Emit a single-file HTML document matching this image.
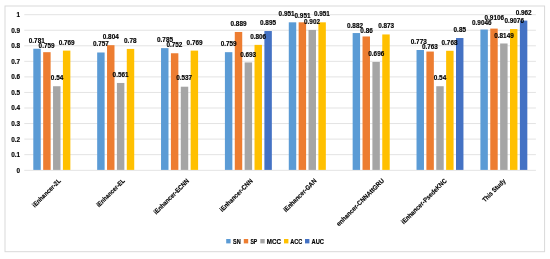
<!DOCTYPE html>
<html><head><meta charset="utf-8"><title>chart</title><style>html,body{margin:0;padding:0;background:#fff}body{width:550px;height:259px;overflow:hidden}</style></head><body>
<svg width="550" height="259" viewBox="0 0 550 259" style="display:block">
<rect x="0" y="0" width="550" height="259" fill="#fff"/>
<rect x="5" y="6" width="539.6" height="245.7" fill="#fff" stroke="#d9d9d9" stroke-width="1"/>
<line x1="24.3" x2="535.9" y1="170.35" y2="170.35" stroke="#d9d9d9" stroke-width="0.75"/>
<line x1="24.3" x2="535.9" y1="154.65" y2="154.65" stroke="#d9d9d9" stroke-width="0.75"/>
<line x1="24.3" x2="535.9" y1="139.10" y2="139.10" stroke="#d9d9d9" stroke-width="0.75"/>
<line x1="24.3" x2="535.9" y1="123.55" y2="123.55" stroke="#d9d9d9" stroke-width="0.75"/>
<line x1="24.3" x2="535.9" y1="108.00" y2="108.00" stroke="#d9d9d9" stroke-width="0.75"/>
<line x1="24.3" x2="535.9" y1="92.45" y2="92.45" stroke="#d9d9d9" stroke-width="0.75"/>
<line x1="24.3" x2="535.9" y1="76.90" y2="76.90" stroke="#d9d9d9" stroke-width="0.75"/>
<line x1="24.3" x2="535.9" y1="61.35" y2="61.35" stroke="#d9d9d9" stroke-width="0.75"/>
<line x1="24.3" x2="535.9" y1="45.80" y2="45.80" stroke="#d9d9d9" stroke-width="0.75"/>
<line x1="24.3" x2="535.9" y1="30.25" y2="30.25" stroke="#d9d9d9" stroke-width="0.75"/>
<line x1="24.3" x2="535.9" y1="14.70" y2="14.70" stroke="#d9d9d9" stroke-width="0.75"/>
<g font-family="'Liberation Sans', sans-serif" font-weight="bold" font-size="6.6" fill="#000" stroke="#000" stroke-width="0.15" stroke-linejoin="round">
<text x="20.1" y="172.65" text-anchor="end" textLength="3.53" lengthAdjust="spacingAndGlyphs">0</text>
<text x="20.1" y="157.10" text-anchor="end" textLength="8.93" lengthAdjust="spacingAndGlyphs">0.1</text>
<text x="20.1" y="141.55" text-anchor="end" textLength="8.93" lengthAdjust="spacingAndGlyphs">0.2</text>
<text x="20.1" y="126.00" text-anchor="end" textLength="8.93" lengthAdjust="spacingAndGlyphs">0.3</text>
<text x="20.1" y="110.45" text-anchor="end" textLength="8.93" lengthAdjust="spacingAndGlyphs">0.4</text>
<text x="20.1" y="94.90" text-anchor="end" textLength="8.93" lengthAdjust="spacingAndGlyphs">0.5</text>
<text x="20.1" y="79.35" text-anchor="end" textLength="8.93" lengthAdjust="spacingAndGlyphs">0.6</text>
<text x="20.1" y="63.80" text-anchor="end" textLength="8.93" lengthAdjust="spacingAndGlyphs">0.7</text>
<text x="20.1" y="48.25" text-anchor="end" textLength="8.93" lengthAdjust="spacingAndGlyphs">0.8</text>
<text x="20.1" y="32.70" text-anchor="end" textLength="8.93" lengthAdjust="spacingAndGlyphs">0.9</text>
<text x="20.1" y="17.15" text-anchor="end" textLength="3.53" lengthAdjust="spacingAndGlyphs">1</text>
<rect x="33.30" y="48.75" width="7.45" height="121.15" fill="#5B9BD5" stroke="none"/>
<rect x="43.17" y="52.18" width="7.45" height="117.72" fill="#ED7D31" stroke="none"/>
<rect x="53.04" y="86.23" width="7.45" height="83.67" fill="#A5A5A5" stroke="none"/>
<rect x="62.91" y="50.62" width="7.45" height="119.28" fill="#FFC000" stroke="none"/>
<rect x="97.17" y="52.49" width="7.45" height="117.41" fill="#5B9BD5" stroke="none"/>
<rect x="107.04" y="45.18" width="7.45" height="124.72" fill="#ED7D31" stroke="none"/>
<rect x="116.91" y="82.96" width="7.45" height="86.94" fill="#A5A5A5" stroke="none"/>
<rect x="126.78" y="48.91" width="7.45" height="120.99" fill="#FFC000" stroke="none"/>
<rect x="161.04" y="48.13" width="7.45" height="121.77" fill="#5B9BD5" stroke="none"/>
<rect x="170.91" y="53.26" width="7.45" height="116.64" fill="#ED7D31" stroke="none"/>
<rect x="180.78" y="86.70" width="7.45" height="83.20" fill="#A5A5A5" stroke="none"/>
<rect x="190.65" y="50.62" width="7.45" height="119.28" fill="#FFC000" stroke="none"/>
<rect x="224.91" y="52.18" width="7.45" height="117.72" fill="#5B9BD5" stroke="none"/>
<rect x="234.78" y="31.96" width="7.45" height="137.94" fill="#ED7D31" stroke="none"/>
<rect x="244.65" y="62.44" width="7.45" height="107.46" fill="#A5A5A5" stroke="none"/>
<rect x="254.52" y="44.87" width="7.45" height="125.03" fill="#FFC000" stroke="none"/>
<rect x="264.39" y="31.03" width="7.45" height="138.87" fill="#4472C4" stroke="none"/>
<rect x="288.78" y="22.32" width="7.45" height="147.58" fill="#5B9BD5" stroke="none"/>
<rect x="298.65" y="22.32" width="7.45" height="147.58" fill="#ED7D31" stroke="none"/>
<rect x="308.52" y="29.94" width="7.45" height="139.96" fill="#A5A5A5" stroke="none"/>
<rect x="318.39" y="22.32" width="7.45" height="147.58" fill="#FFC000" stroke="none"/>
<rect x="352.65" y="33.05" width="7.45" height="136.85" fill="#5B9BD5" stroke="none"/>
<rect x="362.52" y="36.47" width="7.45" height="133.43" fill="#ED7D31" stroke="none"/>
<rect x="372.39" y="61.97" width="7.45" height="107.93" fill="#A5A5A5" stroke="none"/>
<rect x="382.26" y="34.45" width="7.45" height="135.45" fill="#FFC000" stroke="none"/>
<rect x="416.52" y="50.00" width="7.45" height="119.90" fill="#5B9BD5" stroke="none"/>
<rect x="426.39" y="51.55" width="7.45" height="118.35" fill="#ED7D31" stroke="none"/>
<rect x="436.26" y="86.23" width="7.45" height="83.67" fill="#A5A5A5" stroke="none"/>
<rect x="446.13" y="50.78" width="7.45" height="119.12" fill="#FFC000" stroke="none"/>
<rect x="456.00" y="38.03" width="7.45" height="131.87" fill="#4472C4" stroke="none"/>
<rect x="480.39" y="29.53" width="7.45" height="140.37" fill="#5B9BD5" stroke="none"/>
<rect x="490.26" y="28.60" width="7.45" height="141.30" fill="#ED7D31" stroke="none"/>
<rect x="500.13" y="43.48" width="7.45" height="126.42" fill="#A5A5A5" stroke="none"/>
<rect x="510.00" y="29.07" width="7.45" height="140.83" fill="#FFC000" stroke="none"/>
<rect x="519.87" y="20.61" width="7.45" height="149.29" fill="#4472C4" stroke="none"/>
<text x="28.80" y="43.00" textLength="16.00" lengthAdjust="spacingAndGlyphs">0.781</text>
<text x="38.60" y="48.00" textLength="16.00" lengthAdjust="spacingAndGlyphs">0.759</text>
<text x="50.87" y="79.90" textLength="12.46" lengthAdjust="spacingAndGlyphs">0.54</text>
<text x="58.70" y="44.70" textLength="16.00" lengthAdjust="spacingAndGlyphs">0.769</text>
<text x="92.90" y="46.20" textLength="16.00" lengthAdjust="spacingAndGlyphs">0.757</text>
<text x="102.80" y="38.90" textLength="16.00" lengthAdjust="spacingAndGlyphs">0.804</text>
<text x="112.60" y="77.00" textLength="16.00" lengthAdjust="spacingAndGlyphs">0.561</text>
<text x="124.07" y="42.90" textLength="12.46" lengthAdjust="spacingAndGlyphs">0.78</text>
<text x="157.00" y="42.00" textLength="16.00" lengthAdjust="spacingAndGlyphs">0.785</text>
<text x="166.40" y="47.00" textLength="16.00" lengthAdjust="spacingAndGlyphs">0.752</text>
<text x="176.20" y="80.40" textLength="16.00" lengthAdjust="spacingAndGlyphs">0.537</text>
<text x="186.60" y="44.80" textLength="16.00" lengthAdjust="spacingAndGlyphs">0.769</text>
<text x="220.70" y="45.90" textLength="16.00" lengthAdjust="spacingAndGlyphs">0.759</text>
<text x="230.50" y="25.90" textLength="16.00" lengthAdjust="spacingAndGlyphs">0.889</text>
<text x="240.20" y="56.60" textLength="16.00" lengthAdjust="spacingAndGlyphs">0.693</text>
<text x="250.20" y="38.60" textLength="16.00" lengthAdjust="spacingAndGlyphs">0.806</text>
<text x="260.00" y="25.20" textLength="16.00" lengthAdjust="spacingAndGlyphs">0.895</text>
<text x="278.60" y="15.90" textLength="16.00" lengthAdjust="spacingAndGlyphs">0.951</text>
<text x="294.50" y="18.40" textLength="16.00" lengthAdjust="spacingAndGlyphs">0.951</text>
<text x="304.00" y="23.90" textLength="16.00" lengthAdjust="spacingAndGlyphs">0.902</text>
<text x="313.90" y="15.90" textLength="16.00" lengthAdjust="spacingAndGlyphs">0.951</text>
<text x="347.00" y="27.60" textLength="16.00" lengthAdjust="spacingAndGlyphs">0.882</text>
<text x="360.37" y="32.50" textLength="12.46" lengthAdjust="spacingAndGlyphs">0.86</text>
<text x="368.30" y="55.70" textLength="16.00" lengthAdjust="spacingAndGlyphs">0.696</text>
<text x="378.20" y="28.30" textLength="16.00" lengthAdjust="spacingAndGlyphs">0.873</text>
<text x="410.80" y="43.60" textLength="16.00" lengthAdjust="spacingAndGlyphs">0.773</text>
<text x="421.90" y="48.70" textLength="16.00" lengthAdjust="spacingAndGlyphs">0.763</text>
<text x="433.77" y="80.00" textLength="12.46" lengthAdjust="spacingAndGlyphs">0.54</text>
<text x="441.50" y="45.10" textLength="16.00" lengthAdjust="spacingAndGlyphs">0.768</text>
<text x="453.57" y="31.70" textLength="12.46" lengthAdjust="spacingAndGlyphs">0.85</text>
<text x="472.04" y="25.10" textLength="19.53" lengthAdjust="spacingAndGlyphs">0.9046</text>
<text x="484.54" y="20.00" textLength="19.53" lengthAdjust="spacingAndGlyphs">0.9106</text>
<text x="494.24" y="37.60" textLength="19.53" lengthAdjust="spacingAndGlyphs">0.8149</text>
<text x="504.44" y="23.20" textLength="19.53" lengthAdjust="spacingAndGlyphs">0.9076</text>
<text x="515.70" y="15.10" textLength="16.00" lengthAdjust="spacingAndGlyphs">0.962</text>
<text transform="translate(61.20,181.30) rotate(-45)" x="-37.30" y="0" textLength="37.30" lengthAdjust="spacingAndGlyphs">iEnhancer-2L</text>
<text transform="translate(125.20,181.30) rotate(-45)" x="-37.20" y="0" textLength="37.20" lengthAdjust="spacingAndGlyphs">iEnhancer-EL</text>
<text transform="translate(189.50,181.40) rotate(-45)" x="-47.10" y="0" textLength="47.10" lengthAdjust="spacingAndGlyphs">iEnhancer-ECNN</text>
<text transform="translate(253.20,181.40) rotate(-45)" x="-43.70" y="0" textLength="43.70" lengthAdjust="spacingAndGlyphs">iEnhancer-CNN</text>
<text transform="translate(317.10,181.30) rotate(-45)" x="-44.10" y="0" textLength="44.10" lengthAdjust="spacingAndGlyphs">iEnhancer-GAN</text>
<text transform="translate(384.50,181.10) rotate(-45)" x="-64.30" y="0" textLength="64.30" lengthAdjust="spacingAndGlyphs">enhancer-CNNAttGRU</text>
<text transform="translate(447.20,181.20) rotate(-45)" x="-61.30" y="0" textLength="61.30" lengthAdjust="spacingAndGlyphs">iEnhancer-PsedeKNC</text>
<text transform="translate(506.00,181.40) rotate(-45)" x="-29.80" y="0" textLength="29.80" lengthAdjust="spacingAndGlyphs">This Study</text>
<rect x="226.2" y="239" width="4.4" height="4.4" fill="#5B9BD5" stroke="none"/>
<text x="233" y="243.5" textLength="7.7" lengthAdjust="spacingAndGlyphs">SN</text>
<rect x="243.8" y="239" width="4.4" height="4.4" fill="#ED7D31" stroke="none"/>
<text x="250.4" y="243.5" textLength="6.9" lengthAdjust="spacingAndGlyphs">SP</text>
<rect x="260.3" y="239" width="4.4" height="4.4" fill="#A5A5A5" stroke="none"/>
<text x="266.7" y="243.5" textLength="14.2" lengthAdjust="spacingAndGlyphs">MCC</text>
<rect x="284" y="239" width="4.4" height="4.4" fill="#FFC000" stroke="none"/>
<text x="290.3" y="243.5" textLength="12.0" lengthAdjust="spacingAndGlyphs">ACC</text>
<rect x="305" y="239" width="4.4" height="4.4" fill="#4472C4" stroke="none"/>
<text x="311.5" y="243.5" textLength="12.5" lengthAdjust="spacingAndGlyphs">AUC</text>
</g>
</svg>
</body></html>
